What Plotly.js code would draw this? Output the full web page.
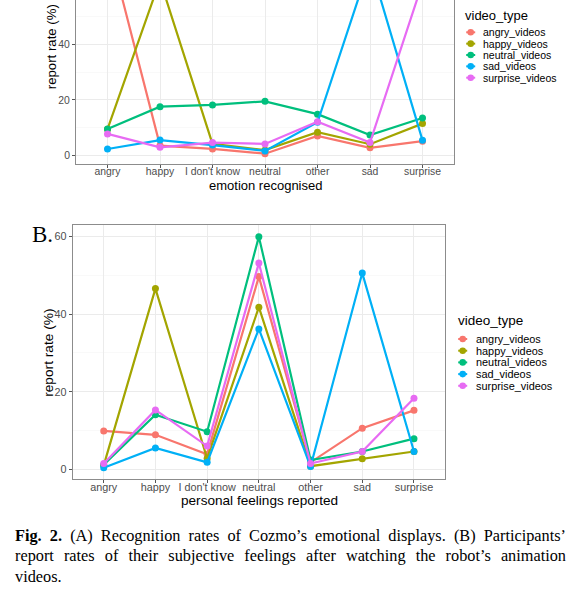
<!DOCTYPE html>
<html>
<head>
<meta charset="utf-8">
<script src="https://cdn.plot.ly/plotly-3.0.1.min.js"></script>
<style>
  html, body { margin: 0; padding: 0; background: #fff; overflow: hidden; }
  #chart { position: absolute; left: 0; top: -80px; width: 580px; height: 600px; }
  #caption {
    position: absolute; left: 15px; top: 526px; width: 551px;
    font-family: "Liberation Serif", "Times New Roman", serif;
    font-size: 16.3px; line-height: 20.3px; color: #000;
  }
  #caption .ln { white-space: nowrap; text-align: justify; text-align-last: justify; }
  #caption .ln.last { text-align-last: left; }
</style>
</head>
<body>
<div id="chart"></div>
<div id="caption">
  <div class="ln"><b>Fig. 2.</b> (A) Recognition rates of Cozmo’s emotional displays. (B) Participants’</div>
  <div class="ln">report rates of their subjective feelings after watching the robot’s animation</div>
  <div class="ln last">videos.</div>
</div>
<script>
"use strict";

// ── Data ──────────────────────────────────────────────────────────────
const categories = ["angry", "happy", "I don't know", "neutral", "other", "sad", "surprise"];
const seriesNames = ["angry_videos", "happy_videos", "neutral_videos", "sad_videos", "surprise_videos"];
const COLORS = ["#F8766D", "#A3A500", "#00BF7D", "#00B0F6", "#E76BF3"];

// Panel A: emotion recognised (%)
const recAngry    = [77, 3.6, 2.4, 0.7, 7.1, 2.8, 5.2];
const recHappy    = [9.5, 63, 4.2, 2.0, 8.4, 4.1, 11.5];
const recNeutral  = [9.6, 17.6, 18.2, 19.5, 14.9, 7.4, 13.5];
const recSad      = [2.4, 5.6, 3.8, 1.7, 12.0, 69, 5.5];
const recSurprise = [7.8, 3.0, 4.7, 4.2, 12.2, 4.7, 62];

// Panel B: personal feelings reported (%)
const feelAngry    = [9.9, 8.9, 3.9, 49.7, 1.8, 10.6, 15.2];
const feelHappy    = [1.0, 46.6, 2.8, 41.8, 0.8, 2.7, 4.6];
const feelNeutral  = [1.2, 14.1, 9.7, 60.0, 2.4, 4.6, 7.9];
const feelSad      = [0.4, 5.5, 1.8, 36.2, 0.7, 50.6, 4.6];
const feelSurprise = [1.5, 15.3, 6.0, 53.2, 1.5, 4.6, 18.3];

const recSeries = [recAngry, recHappy, recNeutral, recSad, recSurprise];
const feelSeries = [feelAngry, feelHappy, feelNeutral, feelSad, feelSurprise];

// y ticks shown (panel A is cropped at the top of the page)
const ticksA = [0, 20, 40];
const ticksB = [0, 20, 40, 60];

// ── Page pixel -> paper coords (figure is shifted 80px above the page) ─
const W = 580, H = 600, SHIFT = 80;
const px = (x) => x / W;
const py = (y) => 1 - (y + SHIFT) / H;

const SANS = "'Liberation Sans', Arial, sans-serif";
const SERIF = "'Liberation Serif', 'Times New Roman', serif";

function makeTraces(series, xa, ya) {
  return series.map((vals, i) => ({
    type: "scatter",
    mode: "lines+markers",
    name: seriesNames[i],
    x: categories,
    y: vals,
    xaxis: xa,
    yaxis: ya,
    line: { color: COLORS[i], width: 2.2 },
    marker: { color: COLORS[i], size: 7 },
    showlegend: false,
    hovertemplate: seriesNames[i] + "<br>%{x}: %{y}%<extra></extra>",
  }));
}

function xAxis(domain, anchor, fontSize) {
  return {
    domain: domain,
    anchor: anchor,
    type: "category",
    categoryorder: "array",
    categoryarray: categories,
    range: [-0.6, 6.6],
    showgrid: true,
    gridcolor: "#ebebeb",
    gridwidth: 1,
    zeroline: false,
    showline: true,
    mirror: true,
    linecolor: "#8c8c8c",
    linewidth: 1,
    ticks: "outside",
    ticklen: 3,
    tickcolor: "#555",
    ticklabelstandoff: -5,
    tickfont: { family: SANS, size: fontSize, color: "#4d4d4d" },
    fixedrange: true,
  };
}

function yAxis(domain, anchor, range, tickvals, fontSize) {
  return {
    domain: domain,
    anchor: anchor,
    range: range,
    tickmode: "array",
    tickvals: tickvals,
    showgrid: true,
    gridcolor: "#ebebeb",
    gridwidth: 1,
    minor: { tick0: 10, dtick: 20, showgrid: true, gridcolor: "#f5f5f5", gridwidth: 0.6 },
    zeroline: false,
    showline: true,
    mirror: true,
    linecolor: "#8c8c8c",
    linewidth: 1,
    ticks: "outside",
    ticklen: 3,
    tickcolor: "#555",
    tickfont: { family: SANS, size: fontSize, color: "#4d4d4d" },
    fixedrange: true,
  };
}

// Hand-built ggplot-style legend (compact keys)
function legendBlock(opt) {
  const annotations = [{
    text: "video_type",
    x: px(opt.titleX), y: py(opt.titleY),
    xref: "paper", yref: "paper",
    xanchor: "left", yanchor: "middle",
    showarrow: false,
    font: { family: SANS, size: opt.titleSize, color: "#000" },
  }];
  const shapes = [];
  seriesNames.forEach((name, i) => {
    const y = opt.firstY + i * opt.step;
    annotations.push({
      text: name,
      x: px(opt.textX), y: py(y),
      xref: "paper", yref: "paper",
      xanchor: "left", yanchor: "middle",
      showarrow: false,
      font: { family: SANS, size: opt.labelSize, color: "#000" },
    });
    shapes.push({
      type: "line", xref: "paper", yref: "paper",
      x0: px(opt.keyX - 4.5), x1: px(opt.keyX + 4.5), y0: py(y), y1: py(y),
      line: { color: COLORS[i], width: 2 },
    });
    shapes.push({
      type: "circle", xref: "paper", yref: "paper",
      x0: px(opt.keyX - 3.3), x1: px(opt.keyX + 3.3),
      y0: py(y + 3.3), y1: py(y - 3.3),
      fillcolor: COLORS[i], line: { width: 0 },
    });
  });
  return { annotations, shapes };
}

const legA = legendBlock({ titleX: 463, titleY: 15, keyX: 470.7, textX: 481, firstY: 32.3, step: 11.35, titleSize: 13, labelSize: 10.5 });
const legB = legendBlock({ titleX: 455.5, titleY: 320, keyX: 462.7, textX: 473.5, firstY: 339, step: 11.7, titleSize: 13.5, labelSize: 10.9 });

const axisTitles = [
  { text: "emotion recognised", x: px(265), y: py(185), textangle: 0, size: 13 },
  { text: "report rate (%)", x: px(51.7), y: py(46.5), textangle: -90, size: 13.2 },
  { text: "personal feelings reported", x: px(259), y: py(500.7), textangle: 0, size: 13.6 },
  { text: "report rate (%)", x: px(48.3), y: py(352.5), textangle: -90, size: 13.7 },
].map((t) => ({
  text: t.text, x: t.x, y: t.y, xref: "paper", yref: "paper",
  xanchor: "center", yanchor: "middle", textangle: t.textangle,
  showarrow: false, font: { family: SANS, size: t.size, color: "#000" },
}));

const panelLabel = {
  text: "B.", x: px(30), y: py(234), xref: "paper", yref: "paper",
  xanchor: "left", yanchor: "middle", showarrow: false,
  font: { family: SERIF, size: 23, color: "#000" },
};

const traces = [
  ...makeTraces(recSeries, "x", "y"),
  ...makeTraces(feelSeries, "x2", "y2"),
];

const layout = {
  width: W,
  height: H,
  margin: { l: 0, r: 0, t: 0, b: 0, pad: 0 },
  paper_bgcolor: "#fff",
  plot_bgcolor: "#fff",
  showlegend: false,
  xaxis: xAxis([px(76), px(454)], "y", 10.4),
  yaxis: yAxis([py(164), py(164 - 83 * 2.785)], "x", [-3, 80], ticksA, 10.4),
  xaxis2: xAxis([px(72.7), px(445)], "y2", 10.8),
  yaxis2: yAxis([py(479), py(225)], "x2", [-2.5, 63], ticksB, 10.8),
  annotations: [...legA.annotations, ...legB.annotations, ...axisTitles, panelLabel],
  shapes: [...legA.shapes, ...legB.shapes],
};

Plotly.newPlot("chart", traces, layout, { displayModeBar: false, staticPlot: true });
</script>
</body>
</html>
